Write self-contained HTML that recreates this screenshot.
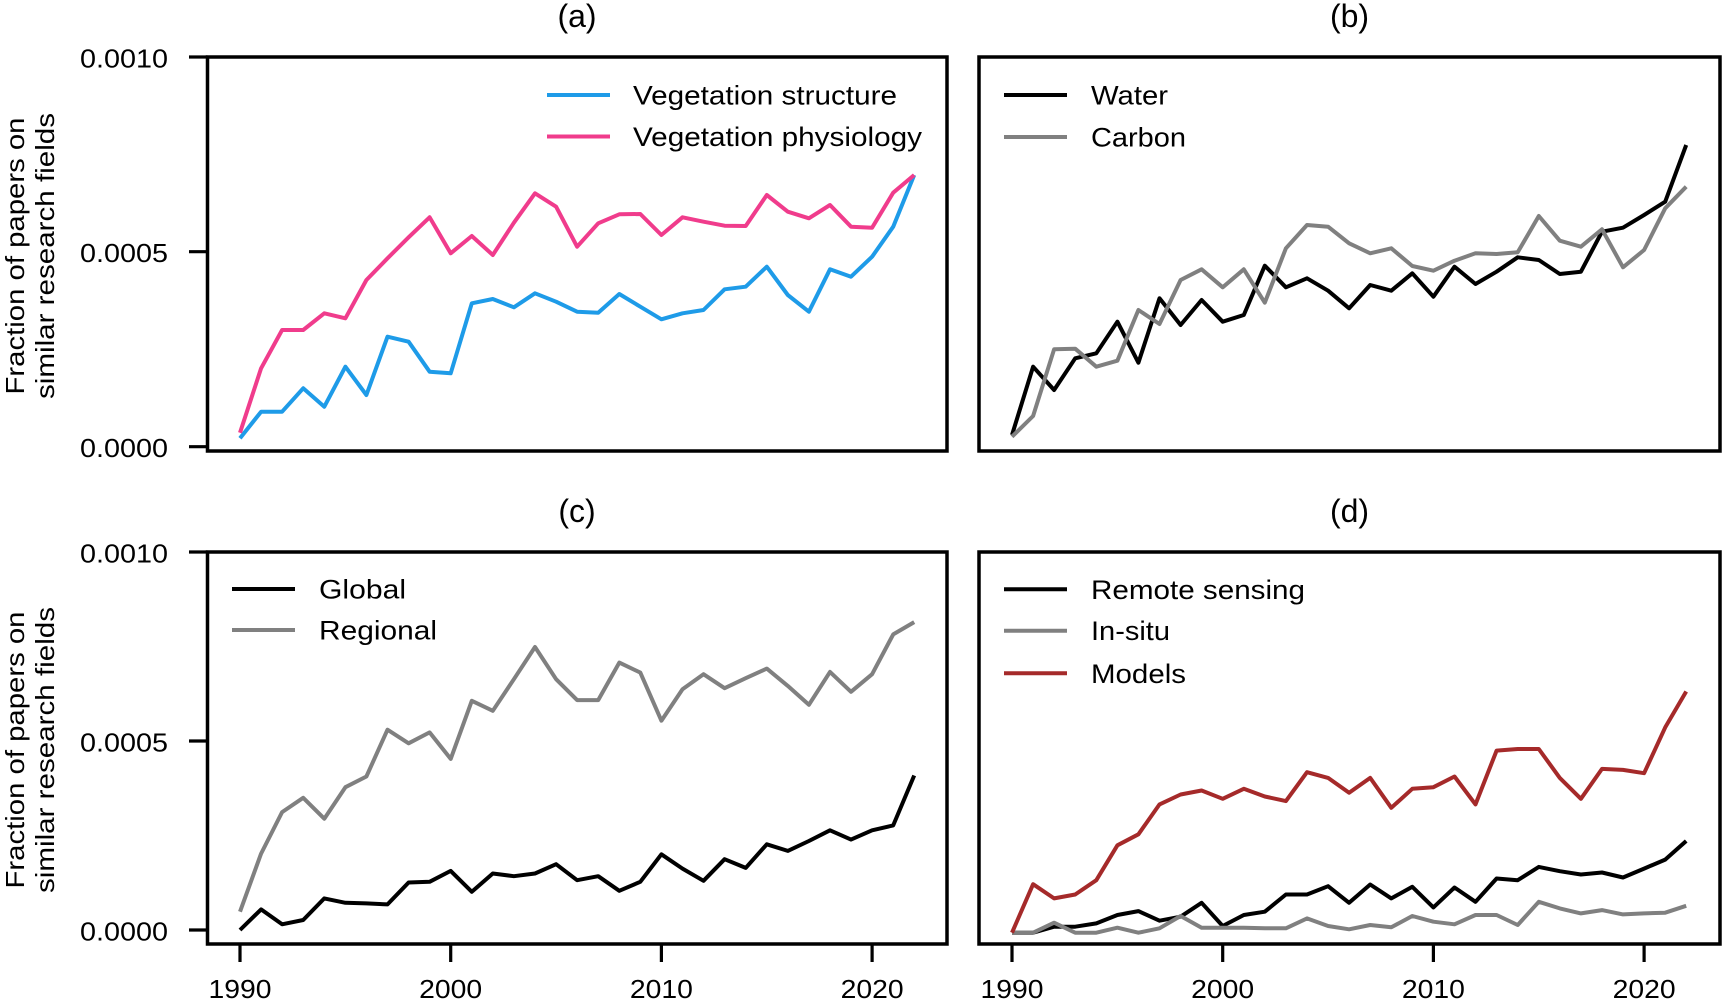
<!DOCTYPE html>
<html>
<head>
<meta charset="utf-8">
<style>
  html,body{margin:0;padding:0;background:#fff;}
  svg{display:block;}
  text{font-family:"Liberation Sans",Arial,sans-serif;fill:#000;}
</style>
</head>
<body>
<svg width="1725" height="1002" viewBox="0 0 1725 1002" xmlns="http://www.w3.org/2000/svg">
  <rect x="0" y="0" width="1725" height="1002" fill="#fff"/>

  <!-- Titles -->
  <text x="577" y="27" font-size="32" text-anchor="middle">(a)</text>
  <text x="1349.5" y="27" font-size="32" text-anchor="middle">(b)</text>
  <text x="577" y="522" font-size="32" text-anchor="middle">(c)</text>
  <text x="1349.5" y="522" font-size="32" text-anchor="middle">(d)</text>

  <!-- Y labels -->
  <g font-size="26">
    <text transform="translate(24,256) rotate(-90)" text-anchor="middle" textLength="277" lengthAdjust="spacingAndGlyphs">Fraction of papers on</text>
    <text transform="translate(54,256) rotate(-90)" text-anchor="middle" textLength="286" lengthAdjust="spacingAndGlyphs">similar research fields</text>
    <text transform="translate(24,750) rotate(-90)" text-anchor="middle" textLength="277" lengthAdjust="spacingAndGlyphs">Fraction of papers on</text>
    <text transform="translate(54,750) rotate(-90)" text-anchor="middle" textLength="286" lengthAdjust="spacingAndGlyphs">similar research fields</text>
  </g>

  <!-- Y tick labels -->
  <g font-size="26" text-anchor="end">
    <text x="168" y="67.5" textLength="88" lengthAdjust="spacingAndGlyphs">0.0010</text>
    <text x="168" y="262" textLength="88" lengthAdjust="spacingAndGlyphs">0.0005</text>
    <text x="168" y="457" textLength="88" lengthAdjust="spacingAndGlyphs">0.0000</text>
    <text x="168" y="562.5" textLength="88" lengthAdjust="spacingAndGlyphs">0.0010</text>
    <text x="168" y="751.5" textLength="88" lengthAdjust="spacingAndGlyphs">0.0005</text>
    <text x="168" y="940.5" textLength="88" lengthAdjust="spacingAndGlyphs">0.0000</text>
  </g>

  <!-- Y ticks -->
  <g stroke="#000" stroke-width="3.2">
    <line x1="189" y1="57" x2="207.5" y2="57"/>
    <line x1="189" y1="251.7" x2="207.5" y2="251.7"/>
    <line x1="189" y1="446.7" x2="207.5" y2="446.7"/>
    <line x1="189" y1="552" x2="207.5" y2="552"/>
    <line x1="189" y1="741" x2="207.5" y2="741"/>
    <line x1="189" y1="930" x2="207.5" y2="930"/>
  </g>

  <!-- X ticks -->
  <g stroke="#000" stroke-width="3.2">
    <line x1="240" y1="944" x2="240" y2="962"/>
    <line x1="450.7" y1="944" x2="450.7" y2="962"/>
    <line x1="661.4" y1="944" x2="661.4" y2="962"/>
    <line x1="872.1" y1="944" x2="872.1" y2="962"/>
    <line x1="1012" y1="944" x2="1012" y2="962"/>
    <line x1="1222.7" y1="944" x2="1222.7" y2="962"/>
    <line x1="1433.4" y1="944" x2="1433.4" y2="962"/>
    <line x1="1644.1" y1="944" x2="1644.1" y2="962"/>
  </g>

  <!-- X tick labels -->
  <g font-size="26" text-anchor="middle">
    <text x="240" y="998" textLength="63" lengthAdjust="spacingAndGlyphs">1990</text>
    <text x="450.7" y="998" textLength="63" lengthAdjust="spacingAndGlyphs">2000</text>
    <text x="661.4" y="998" textLength="63" lengthAdjust="spacingAndGlyphs">2010</text>
    <text x="872.1" y="998" textLength="63" lengthAdjust="spacingAndGlyphs">2020</text>
    <text x="1012" y="998" textLength="63" lengthAdjust="spacingAndGlyphs">1990</text>
    <text x="1222.7" y="998" textLength="63" lengthAdjust="spacingAndGlyphs">2000</text>
    <text x="1433.4" y="998" textLength="63" lengthAdjust="spacingAndGlyphs">2010</text>
    <text x="1644.1" y="998" textLength="63" lengthAdjust="spacingAndGlyphs">2020</text>
  </g>

  <!-- Series -->
  <g fill="none" stroke-width="4" stroke-linejoin="round" stroke-linecap="butt">
    <!-- (a) -->
    <polyline stroke="#1e9be8" points="240.0,438.3 261.1,411.7 282.1,411.7 303.2,388.3 324.3,406.7 345.4,366.7 366.4,395.0 387.5,336.7 408.6,341.7 429.6,371.7 450.7,373.3 471.8,303.3 492.8,299.0 513.9,307.3 535.0,293.3 556.1,301.7 577.1,311.7 598.2,312.7 619.3,294.0 640.3,306.7 661.4,319.3 682.5,313.3 703.5,310.0 724.6,289.3 745.7,286.7 766.8,266.7 787.8,295.0 808.9,311.7 830.0,269.3 851.0,276.7 872.1,256.7 893.2,226.7 914.2,175.0"/>
    <polyline stroke="#f03c8c" points="240.0,432.7 261.1,368.3 282.1,330.0 303.2,330.0 324.3,313.3 345.4,318.3 366.4,280.0 387.5,258.3 408.6,237.3 429.6,217.3 450.7,253.3 471.8,236.0 492.8,255.0 513.9,222.7 535.0,193.3 556.1,206.7 577.1,246.7 598.2,223.3 619.3,214.3 640.3,214.0 661.4,235.0 682.5,217.3 703.5,221.7 724.6,225.7 745.7,226.0 766.8,195.0 787.8,211.7 808.9,218.3 830.0,205.0 851.0,226.7 872.1,227.7 893.2,192.7 914.2,175.0"/>
    <!-- (b) -->
    <polyline stroke="#000" points="1012.0,435.0 1033.1,366.7 1054.1,390.0 1075.2,358.3 1096.3,353.3 1117.4,321.7 1138.4,362.7 1159.5,298.3 1180.6,325.0 1201.6,300.0 1222.7,321.7 1243.8,315.0 1264.8,265.7 1285.9,287.3 1307.0,278.3 1328.1,290.7 1349.1,308.3 1370.2,285.0 1391.3,290.7 1412.3,273.3 1433.4,296.7 1454.5,266.7 1475.5,284.0 1496.6,271.7 1517.7,257.3 1538.8,260.0 1559.8,274.0 1580.9,271.7 1602.0,231.7 1623.0,227.7 1644.1,215.0 1665.2,201.7 1686.2,145.0"/>
    <polyline stroke="#808080" points="1012.0,436.7 1033.1,416.0 1054.1,349.3 1075.2,348.7 1096.3,366.7 1117.4,360.7 1138.4,310.0 1159.5,324.0 1180.6,280.0 1201.6,269.3 1222.7,287.3 1243.8,269.3 1264.8,302.7 1285.9,248.3 1307.0,225.0 1328.1,226.7 1349.1,243.3 1370.2,253.3 1391.3,248.3 1412.3,266.0 1433.4,270.7 1454.5,260.7 1475.5,253.3 1496.6,254.0 1517.7,252.3 1538.8,216.0 1559.8,240.7 1580.9,246.7 1602.0,229.3 1623.0,267.3 1644.1,250.0 1665.2,208.3 1686.2,186.7"/>
    <!-- (c) -->
    <polyline stroke="#000" points="240.0,930.0 261.1,909.4 282.1,924.3 303.2,920.0 324.3,898.4 345.4,902.8 366.4,903.4 387.5,904.4 408.6,882.5 429.6,881.8 450.7,870.9 471.8,891.8 492.8,873.5 513.9,876.2 535.0,873.5 556.1,864.2 577.1,880.2 598.2,876.2 619.3,890.8 640.3,881.8 661.4,854.3 682.5,868.6 703.5,880.8 724.6,859.2 745.7,867.9 766.8,844.3 787.8,850.9 808.9,841.0 830.0,830.3 851.0,839.6 872.1,830.3 893.2,825.4 914.2,775.5"/>
    <polyline stroke="#808080" points="240.0,911.7 261.1,853.6 282.1,812.1 303.2,797.8 324.3,818.7 345.4,787.2 366.4,776.5 387.5,729.7 408.6,743.3 429.6,732.4 450.7,758.9 471.8,700.8 492.8,710.8 513.9,679.2 535.0,647.0 556.1,679.2 577.1,700.1 598.2,700.1 619.3,662.6 640.3,672.6 661.4,720.7 682.5,689.2 703.5,674.2 724.6,688.2 745.7,678.2 766.8,668.6 787.8,685.9 808.9,704.8 830.0,671.9 851.0,691.8 872.1,674.2 893.2,634.4 914.2,622.1"/>
    <!-- (d) -->
    <polyline stroke="#000" points="1012.0,932.7 1033.1,932.7 1054.1,926.7 1075.2,926.7 1096.3,923.4 1117.4,915.0 1138.4,911.1 1159.5,920.7 1180.6,916.7 1201.6,902.8 1222.7,926.0 1243.8,915.0 1264.8,911.7 1285.9,894.5 1307.0,894.5 1328.1,886.2 1349.1,902.8 1370.2,884.5 1391.3,898.4 1412.3,886.8 1433.4,907.4 1454.5,887.5 1475.5,901.8 1496.6,878.5 1517.7,880.2 1538.8,866.9 1559.8,871.2 1580.9,874.5 1602.0,872.5 1623.0,877.5 1644.1,868.6 1665.2,859.6 1686.2,841.0"/>
    <polyline stroke="#808080" points="1012.0,932.7 1033.1,932.7 1054.1,922.7 1075.2,932.7 1096.3,932.7 1117.4,927.7 1138.4,932.7 1159.5,928.3 1180.6,916.0 1201.6,927.7 1222.7,927.7 1243.8,927.7 1264.8,928.3 1285.9,928.3 1307.0,918.4 1328.1,926.0 1349.1,929.3 1370.2,925.0 1391.3,927.3 1412.3,916.0 1433.4,921.7 1454.5,924.3 1475.5,915.0 1496.6,915.0 1517.7,925.0 1538.8,901.8 1559.8,908.4 1580.9,913.4 1602.0,910.1 1623.0,914.4 1644.1,913.4 1665.2,912.7 1686.2,905.8"/>
    <polyline stroke="#a52a2a" points="1012.0,932.7 1033.1,884.2 1054.1,898.4 1075.2,894.5 1096.3,880.2 1117.4,845.3 1138.4,834.3 1159.5,804.4 1180.6,794.5 1201.6,790.5 1222.7,798.8 1243.8,788.8 1264.8,796.5 1285.9,801.1 1307.0,772.2 1328.1,777.9 1349.1,792.8 1370.2,777.9 1391.3,807.8 1412.3,788.8 1433.4,787.2 1454.5,776.5 1475.5,804.4 1496.6,750.6 1517.7,749.0 1538.8,749.0 1559.8,777.9 1580.9,798.8 1602.0,768.9 1623.0,769.9 1644.1,773.2 1665.2,727.4 1686.2,691.5"/>
  </g>

  <!-- Frames -->
  <g fill="none" stroke="#000" stroke-width="3.5">
    <rect x="207.5" y="57" width="739.5" height="394"/>
    <rect x="979" y="57" width="741" height="394"/>
    <rect x="207.5" y="552" width="739.5" height="392"/>
    <rect x="979" y="552" width="741" height="392"/>
  </g>

  <!-- Legends -->
  <g stroke-width="4">
    <line x1="547" y1="95" x2="610" y2="95" stroke="#1e9be8"/>
    <line x1="547" y1="136.5" x2="610" y2="136.5" stroke="#f03c8c"/>
    <line x1="1004" y1="95" x2="1067" y2="95" stroke="#000"/>
    <line x1="1004" y1="137" x2="1067" y2="137" stroke="#808080"/>
    <line x1="232" y1="589" x2="295" y2="589" stroke="#000"/>
    <line x1="232" y1="630" x2="295" y2="630" stroke="#808080"/>
    <line x1="1004" y1="589.3" x2="1067" y2="589.3" stroke="#000"/>
    <line x1="1004" y1="630.7" x2="1067" y2="630.7" stroke="#808080"/>
    <line x1="1004" y1="673.3" x2="1067" y2="673.3" stroke="#a52a2a"/>
  </g>
  <g font-size="27">
    <text x="633" y="104.5" textLength="264" lengthAdjust="spacingAndGlyphs">Vegetation structure</text>
    <text x="633" y="146" textLength="289" lengthAdjust="spacingAndGlyphs">Vegetation physiology</text>
    <text x="1091" y="104.5" textLength="77" lengthAdjust="spacingAndGlyphs">Water</text>
    <text x="1091" y="146.5" textLength="95" lengthAdjust="spacingAndGlyphs">Carbon</text>
    <text x="319" y="598.5" textLength="87" lengthAdjust="spacingAndGlyphs">Global</text>
    <text x="319" y="639.5" textLength="118" lengthAdjust="spacingAndGlyphs">Regional</text>
    <text x="1091" y="599" textLength="214" lengthAdjust="spacingAndGlyphs">Remote sensing</text>
    <text x="1091" y="640.2" textLength="79" lengthAdjust="spacingAndGlyphs">In-situ</text>
    <text x="1091" y="682.8" textLength="95" lengthAdjust="spacingAndGlyphs">Models</text>
  </g>
</svg>
</body>
</html>
